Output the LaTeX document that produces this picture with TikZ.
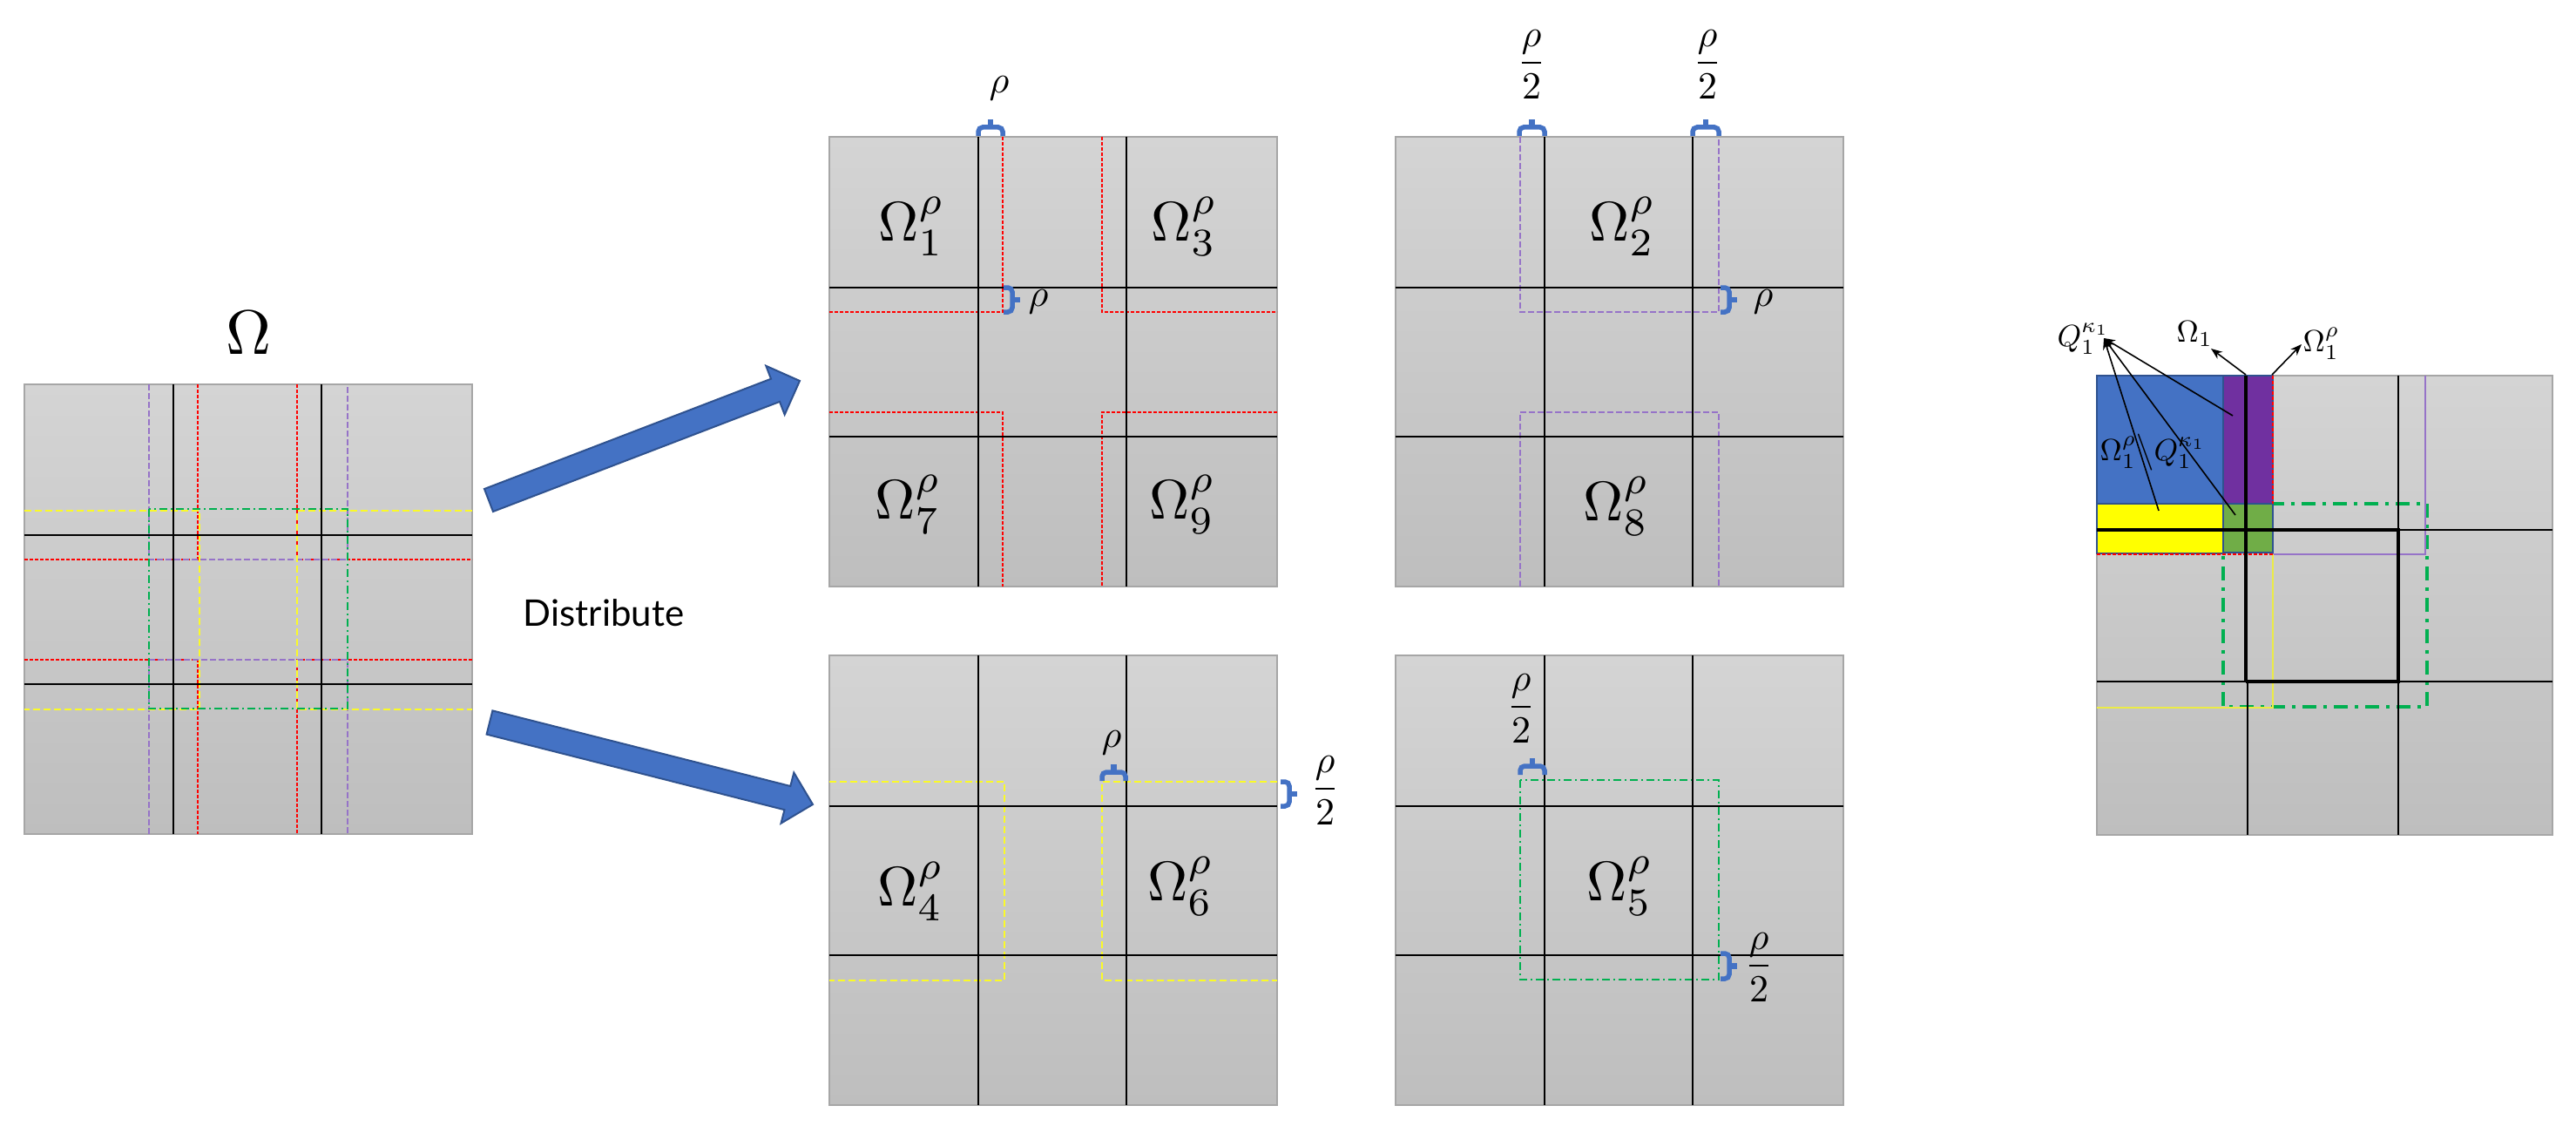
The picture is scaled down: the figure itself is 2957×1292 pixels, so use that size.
\documentclass[tikz,border=0pt]{standalone}
\usepackage[no-math]{fontspec}
\newfontfamily\distfont{Lato}
\usetikzlibrary{arrows.meta}
\definecolor{gtop}{RGB}{212,212,212}
\definecolor{gbot}{RGB}{190,190,190}
\definecolor{boxgray}{RGB}{166,166,166}
\definecolor{brblue}{RGB}{68,114,196}
\definecolor{arrowdark}{RGB}{47,82,143}
\definecolor{lav}{RGB}{150,115,200}
\definecolor{yel}{RGB}{250,250,40}
\definecolor{yelthin}{RGB}{235,235,70}
\definecolor{grn}{RGB}{0,176,80}
\definecolor{fblue}{RGB}{68,114,196}
\definecolor{fpurple}{RGB}{112,48,160}
\definecolor{fyellow}{RGB}{255,255,0}
\definecolor{fgreen}{RGB}{112,173,71}
\definecolor{boxblue}{RGB}{47,82,143}
\tikzset{
  panelbox/.style={draw=boxgray, line width=2pt, top color=gtop, bottom color=gbot},
  gridline/.style={draw=black, line width=2.2pt},
  redl/.style={draw=red, line width=2pt, dash pattern=on 4pt off 2pt},
  purl/.style={draw=lav, line width=2pt, dash pattern=on 7pt off 3pt},
  yell/.style={draw=yel, line width=2pt, dash pattern=on 8pt off 4pt},
  grnl/.style={draw=grn, line width=2pt, dash pattern=on 9pt off 4pt on 2pt off 4pt},
  grnthick/.style={draw=grn, line width=3.5pt, dash pattern=on 16pt off 8pt on 4pt off 8pt},
  brk/.style={draw=brblue, line width=5.5pt, rounded corners=5pt},
  brtk/.style={draw=brblue, line width=6.5pt},
  biglab/.style={anchor=base west, inner sep=0pt, scale=6.4},
  titlelab/.style={anchor=base, inner sep=0pt, scale=7.2},
  fraclab/.style={inner sep=0pt, scale=4.4},
  smalllab/.style={anchor=base west, inner sep=0pt, scale=3.5},
  blockarrow/.style={fill=brblue, draw=arrowdark, line width=2pt, line join=miter},
  ptr/.style={draw=black, line width=1.6pt, -{Stealth[length=13pt,width=10pt]}},
  fillbox/.style={draw=boxblue, line width=1.5pt},
  thinblack/.style={draw=black, line width=2pt},
  thickblack/.style={draw=black, line width=4.5pt},
}
\newcommand\mybrtop[3]{%
  \draw[brk] (#1,#3) -- (#1,#3-10) -- (#2,#3-10) -- (#2,#3);
  \draw[brtk] ({(#1+#2)/2},#3-10) -- ({(#1+#2)/2},#3-19);}
\newcommand\mybrside[3]{%
  \draw[brk] (#3,#1) -- (#3+10,#1) -- (#3+10,#2) -- (#3,#2);
  \draw[brtk] (#3+10,{(#1+#2)/2}) -- (#3+19,{(#1+#2)/2});}
\newcommand\panelbg{\path[panelbox] (0,0) rectangle (514,516);}
\newcommand\panelgrid{\draw[gridline] (171,0)--(171,516) (341,0)--(341,516) (0,173)--(514,173) (0,344)--(514,344);}
\newcommand\redpaths{\draw[redl] (199,0)--(199,201)--(0,201) (313,0)--(313,201)--(514,201) (0,316)--(199,316)--(199,516) (514,316)--(313,316)--(313,516);}
\newcommand\purpaths{\draw[purl] (143,0)--(143,201)--(371,201)--(371,0) (143,516)--(143,316)--(371,316)--(371,516);}
\newcommand\yelpaths{\draw[yell] (0,145)--(201,145)--(201,373)--(0,373) (514,145)--(313,145)--(313,373)--(514,373);}
\newcommand\grnpaths{\draw[grnl] (143,143) rectangle (371,372);}
\begin{document}
\begin{tikzpicture}[x=1pt,y=-1pt]
\useasboundingbox (0,0) rectangle (2957,1292);

% ---- Omega panel
\begin{scope}[shift={(28,441)}]
  \panelbg
  \redpaths
  \purpaths
  \yelpaths
  \grnpaths
  \panelgrid
\end{scope}
\node[titlelab] (omega) at (285,406) {$\Omega$};

% ---- block arrows
\filldraw[blockarrow] (556,561) -- (885,434.7) -- (879.3,419.8) -- (918,437) -- (900.7,475.8) -- (895,460.9) -- (566,587) -- cycle;
\filldraw[blockarrow] (565.4,815.4) -- (907.3,902.0) -- (911.3,886.5) -- (933,923) -- (896.5,944.7) -- (900.5,929.2) -- (558.6,842.6) -- cycle;
\node[inner sep=0pt, font=\distfont\fontsize{42}{48}\selectfont] (dist) at (693,703) {Distribute};

% ---- Panel 1: Omega 1,3,7,9
\begin{scope}[shift={(952,157)}]
  \panelbg
  \redpaths
  \panelgrid
\end{scope}
\node[biglab] (o1) at (1007,276) {$\Omega_1^\rho$};
\node[biglab] (o3) at (1320,276) {$\Omega_3^\rho$};
\node[biglab] (o7) at (1003,595) {$\Omega_7^\rho$};
\node[biglab] (o9) at (1318,595) {$\Omega_9^\rho$};
\mybrtop{1123}{1151}{156}
\node[fraclab] (r1) at (1147,101) {$\rho$};
\mybrside{330}{358}{1152}
\node[fraclab] (r2) at (1192,346) {$\rho$};

% ---- Panel 2: Omega 2,8
\begin{scope}[shift={(1602,157)}]
  \panelbg
  \purpaths
  \panelgrid
\end{scope}
\node[biglab] (o2) at (1823,276) {$\Omega_2^\rho$};
\node[biglab] (o8) at (1816,597) {$\Omega_8^\rho$};
\mybrtop{1744}{1773}{156}
\mybrtop{1943}{1973}{156}
\node[fraclab] (h1) at (1758,74) {$\displaystyle\frac{\rho}{2}$};
\node[fraclab] (h2) at (1960,74) {$\displaystyle\frac{\rho}{2}$};
\mybrside{330}{358}{1975}
\node[fraclab] (r3) at (2024,346) {$\rho$};

% ---- Panel 3: Omega 4,6
\begin{scope}[shift={(952,752)}]
  \panelbg
  \yelpaths
  \panelgrid
\end{scope}
\node[biglab] (o4) at (1006,1039) {$\Omega_4^\rho$};
\node[biglab] (o6) at (1316,1033) {$\Omega_6^\rho$};
\mybrtop{1265}{1292}{896}
\node[fraclab] (r4) at (1276,852) {$\rho$};
\mybrside{897}{925}{1470}
\node[fraclab] (h3) at (1521,907) {$\displaystyle\frac{\rho}{2}$};

% ---- Panel 4: Omega 5
\begin{scope}[shift={(1602,752)}]
  \panelbg
  \grnpaths
  \panelgrid
\end{scope}
\node[biglab] (o5) at (1820,1033) {$\Omega_5^\rho$};
\mybrtop{1745}{1773}{889}
\node[fraclab] (h4) at (1746,813) {$\displaystyle\frac{\rho}{2}$};
\mybrside{1094}{1123}{1975}
\node[fraclab] (h5) at (2019,1110) {$\displaystyle\frac{\rho}{2}$};

% ---- Right panel
\begin{scope}[shift={(2407,431)}]
  \path[panelbox] (0,0) rectangle (523,527);
  \draw[grnthick] (145,147) rectangle (379,380);
  \draw[line width=1.5pt, draw=lav] (202,205) -- (377,205) -- (377,0);
  \draw[line width=1.5pt, draw=yelthin] (0,381) -- (202,381) -- (202,205);
  \filldraw[fillbox, fill=fblue] (0,0) rectangle (145,147);
  \filldraw[fillbox, fill=fpurple] (145,0) rectangle (202,147);
  \filldraw[fillbox, fill=fyellow] (0,147) rectangle (145,204);
  \filldraw[fillbox, fill=fgreen] (145,147) rectangle (202,203);
  \draw[redl] (202,0) -- (202,147) (0,205) -- (202,205);
  \draw[thinblack] (173,351) -- (173,527) (346,0) -- (346,177) (346,351) -- (346,527)
        (346,177) -- (523,177) (0,351) -- (171,351) (346,351) -- (523,351);
  \draw[thickblack] (171,0) -- (171,351) (0,177) -- (346,177) -- (346,351) -- (171,351);
\end{scope}
\node[smalllab] (q1) at (2361,397) {$Q_1^{\kappa_1}$};
\node[smalllab] (om1) at (2498,392) {$\Omega_1$};
\node[smalllab] (om1r) at (2643,403) {$\Omega_1^\rho$};
\node[smalllab] (diff) at (2410,528) {$\Omega_1^\rho\big\backslash Q_1^{\kappa_1}$};
\coordinate (qtip) at (2415,388);
\coordinate (qa) at (2563,477);
\coordinate (qb) at (2478,586);
\coordinate (qc) at (2566,591);
\coordinate (oa) at (2578,430);
\coordinate (otip) at (2538,400);
\coordinate (ra) at (2608,430);
\coordinate (rtip) at (2642,395);
\draw[ptr] (qa) -- (qtip);
\draw[ptr] (qb) -- (qtip);
\draw[ptr] (qc) -- (qtip);
\draw[ptr] (oa) -- (otip);
\draw[ptr] (ra) -- (rtip);
\end{tikzpicture}
\end{document}
